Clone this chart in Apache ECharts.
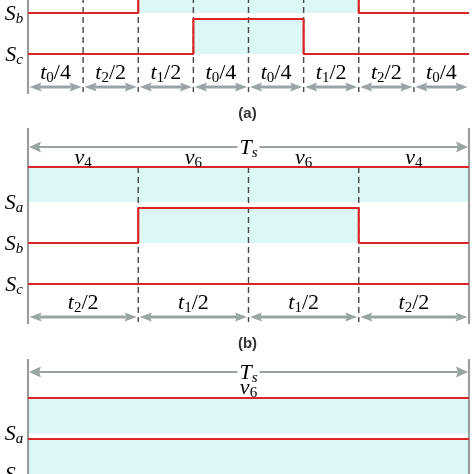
<!DOCTYPE html>
<html><head><meta charset="utf-8">
<script src="https://cdn.jsdelivr.net/npm/echarts@6/dist/echarts.min.js"></script>
<style>html,body{margin:0;padding:0;background:#fff}#c{width:474px;height:474px}</style>
</head><body><div id="c"></div>
<script>
// ---------------- data ----------------
const segLabelsA = ['t0/4','t2/2','t1/2','t0/4','t0/4','t1/2','t2/2','t0/4'];
const SaA = [0,1,1,1,1,1,1,0];
const SbA = [0,0,1,1,1,1,0,0];
const ScA = [0,0,0,1,1,0,0,0];

const segLabelsB = ['t2/2','t1/2','t1/2','t2/2'];
const vectorsB   = ['v4','v6','v6','v4'];
const SaB = [1,1,1,1];
const SbB = [0,1,1,0];
const ScB = [0,0,0,0];

const vectorsC = ['v6'];
const SaC = [1];
const SbC = [1];
const ScC = [0];

const rowNames = ['a','b','c'];
const periodLabel = 'Ts';
const captions = ['(a)','(b)','(c)'];

// ---------------- layout / style ----------------
const X_MAX = 8;
const LAYOUT = {
  amp: 35, pitch: 41,
  panelTop: [-63, 167, 398],
  tsArrowOff: [-20, -20, -26],
  vLabelOff: [-9, -9, -10],
  axisTopOff: -39,
  tLabelOff: 136, arrowOff: 150, axisBottomOff: 157, captionOff: 177,
  rightLine: [false, true, true],
  sLabelX: 14, sLabelDy: 1
};
const STY = {
  red: '#dc2626', redW: 2.2,
  fill: '#dcf8f6',
  dash: '#484848',
  axis: '#9a9e9e',
  arrow: '#9aa4a4',
  serif: '"Liberation Serif","Times New Roman",serif',
  sans: '"Liberation Sans",Arial,sans-serif'
};
const RICH = {
  i: {fontFamily: STY.serif, fontStyle: 'italic', fontSize: 22, lineHeight: 22, verticalAlign: 'top', color: '#111'},
  r: {fontFamily: STY.serif, fontSize: 22, lineHeight: 22, verticalAlign: 'top', color: '#111'},
  s: {fontFamily: STY.serif, fontSize: 15, lineHeight: 15, verticalAlign: 'top', padding: [9,0,0,0], color: '#111'},
  si:{fontFamily: STY.serif, fontStyle: 'italic', fontSize: 15, lineHeight: 15, verticalAlign: 'top', padding: [9,0,0,0], color: '#111'}
};
function richOf(label) {
  let m;
  if ((m = /^t(\d)\/(\d)$/.exec(label))) return '{i|t}{s|' + m[1] + '}{r|/' + m[2] + '}';
  if ((m = /^v(\d)$/.exec(label))) return '{i|v}{s|' + m[1] + '}';
  if ((m = /^([A-Z])([a-z])$/.exec(label))) return '{i|' + m[1] + '}{si|' + m[2] + '}';
  return label;
}

const panels = [
  {segs: segLabelsA, vecs: null,      rows: [SaA, SbA, ScA]},
  {segs: segLabelsB, vecs: vectorsB,  rows: [SaB, SbB, ScB]},
  {segs: null,       vecs: vectorsC,  rows: [SaC, SbC, ScC]}
];

const back = [], mid = [], front = [], lineSeries = [];
panels.forEach((p, pi) => {
  const top = LAYOUT.panelTop[pi];
  const n = p.rows[0].length;
  const w = X_MAX / n;
  const rowY = (r, lvl) => top + r * LAYOUT.pitch + (lvl ? 0 : LAYOUT.amp);
  p.rows.forEach((states, r) => {
    states.forEach((s, i) => { if (s) back.push({k:'rect', x0:i*w, x1:(i+1)*w, y0:rowY(r,1), y1:rowY(r,0)}); });
    const pts = [];
    states.forEach((s, i) => { pts.push([i*w, rowY(r,s)], [(i+1)*w, rowY(r,s)]); });
    lineSeries.push({type:'line', data: pts, symbol:'none', silent:true, animation:false, z:3,
      lineStyle:{color:STY.red, width:STY.redW}});
    front.push({k:'label', x:0, dx:LAYOUT.sLabelX, y:rowY(r,0)+LAYOUT.sLabelDy, text: richOf('S' + rowNames[r])});
  });
  for (let i = 1; i < n; i++) mid.push({k:'dash', x:i*w, y0:top, y1:top+LAYOUT.axisBottomOff - 2});
  mid.push({k:'vline', x:0, y0:top+LAYOUT.axisTopOff, y1:top+LAYOUT.axisBottomOff});
  if (LAYOUT.rightLine[pi]) mid.push({k:'vline', x:X_MAX, y0:top+LAYOUT.axisTopOff, y1:top+LAYOUT.axisBottomOff});
  if (p.segs) p.segs.forEach((lab, i) => {
    front.push({k:'text', x:(i+0.5)*w, y:top+LAYOUT.tLabelOff, text:richOf(lab)});
    front.push({k:'darrow', x0:i*w, x1:(i+1)*w, y:top+LAYOUT.arrowOff});
  });
  if (p.vecs) {
    p.vecs.forEach((lab, i) => front.push({k:'text', x:(i+0.5)*w, y:top+LAYOUT.vLabelOff[pi], text:richOf(lab)}));
    front.push({k:'tsarrow', x0:0, x1:X_MAX, y:top+LAYOUT.tsArrowOff[pi]});
    front.push({k:'text', x:X_MAX/2, y:top+LAYOUT.tsArrowOff[pi]+1, text:richOf(periodLabel), bg:true});
  }
  front.push({k:'caption', x:X_MAX/2, y:top+LAYOUT.captionOff, text:captions[pi]});
});

function arrowEls(xa, xb, y, head, half, width, color) {
  return [
    {type:'line', shape:{x1:xa+head-2, y1:y, x2:xb-head+2, y2:y}, style:{stroke:color, lineWidth:width}},
    {type:'polygon', shape:{points:[[xa,y],[xa+head,y-half],[xa+head-2,y],[xa+head,y+half]]}, style:{fill:color}},
    {type:'polygon', shape:{points:[[xb,y],[xb-head,y-half],[xb-head+2,y],[xb-head,y+half]]}, style:{fill:color}}
  ];
}
function makeRender(list) {
  return function(params, api) {
    const s = list[params.dataIndex];
    const c = (x, y) => api.coord([x, y]);
    if (s.k === 'rect') {
      const a = c(s.x0, s.y0), b = c(s.x1, s.y1);
      return {type:'rect', shape:{x:a[0], y:a[1], width:b[0]-a[0], height:b[1]-a[1]}, style:{fill:STY.fill}};
    }
    if (s.k === 'dash') {
      const a = c(s.x, s.y0), b = c(s.x, s.y1);
      return {type:'line', shape:{x1:a[0], y1:a[1], x2:b[0], y2:b[1]}, style:{stroke:STY.dash, lineWidth:1.4, lineDash:[6,4]}};
    }
    if (s.k === 'vline') {
      const a = c(s.x, s.y0), b = c(s.x, s.y1);
      return {type:'line', shape:{x1:a[0], y1:a[1], x2:b[0], y2:b[1]}, style:{stroke:STY.axis, lineWidth:2.2}};
    }
    if (s.k === 'darrow') {
      const a = c(s.x0, s.y), b = c(s.x1, s.y);
      return {type:'group', children: arrowEls(a[0]+1.5, b[0]-1.5, a[1], 12, 4.5, 3, STY.arrow)};
    }
    if (s.k === 'tsarrow') {
      const a = c(s.x0, s.y), b = c(s.x1, s.y);
      return {type:'group', children: arrowEls(a[0]+1, b[0]-1, a[1], 12, 5.5, 2, STY.arrow)};
    }
    if (s.k === 'text' || s.k === 'label') {
      const a = c(s.x, s.y);
      const x = s.k === 'label' ? s.dx : a[0];
      return {type:'text', x:x, y:a[1], style:{text:s.text, rich:RICH, align:'center', verticalAlign:'middle',
        backgroundColor: s.bg ? '#fff' : null, padding: s.bg ? [0,2,0,2] : 0}};
    }
    if (s.k === 'caption') {
      const a = c(s.x, s.y);
      return {type:'text', x:a[0]-1, y:a[1], style:{text:s.text, fontFamily:STY.sans, fontWeight:'bold', fontSize:15,
        fill:'#333', align:'center', verticalAlign:'middle'}};
    }
    return null;
  };
}
function customSeries(list, z) {
  return {type:'custom', data: list.map((_, i) => [i, 0]), renderItem: makeRender(list), z:z, silent:true, animation:false, clip:false};
}

const chart = echarts.init(document.getElementById('c'), null, {renderer:'canvas'});
chart.setOption({
  animation: false,
  backgroundColor: '#fff',
  grid: {left: 28, right: 5, top: 0, bottom: 0, containLabel: false},
  xAxis: {type:'value', min:0, max:X_MAX, show:false},
  yAxis: {type:'value', min:0, max:474, inverse:true, show:false},
  series: [customSeries(back, 1), customSeries(mid, 2)].concat(lineSeries).concat([customSeries(front, 4)])
});
</script>
</body></html>
